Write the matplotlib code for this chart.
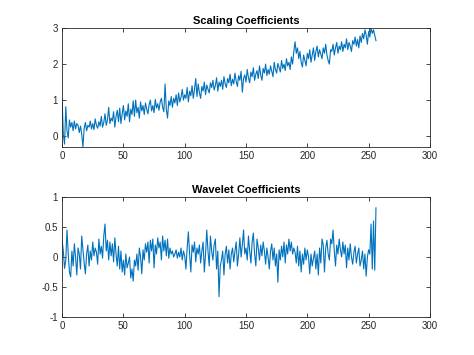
import numpy as np
import matplotlib
matplotlib.use("Agg")
from matplotlib import pyplot as plt

plt.rcParams['font.family'] = ['Liberation Sans', 'DejaVu Sans']

#############################################################
# Data
#############################################################
scaling = [
    1.05, 0.05, -0.22, 0.82, 0.15, -0.05, 0.45, 0.25, 0.38, 0.15,
    0.42, 0.20, 0.35, 0.30, 0.10, 0.28, 0.05, -0.30, 0.22, 0.38,
    0.15, 0.30, 0.25, 0.42, 0.20, 0.35, 0.18, 0.48, 0.30, 0.22,
    0.40, 0.28, 0.55, 0.25, 0.38, 0.62, 0.30, 0.45, 0.80, 0.35,
    0.50, 0.42, 0.68, 0.25, 0.55, 0.72, 0.40, 0.78, 0.35, 0.62,
    0.85, 0.45, 0.70, 0.55, 0.90, 0.40, 0.75, 0.60, 0.98, 0.55,
    1.00, 0.65, 0.80, 0.50, 0.95, 0.70, 0.85, 0.60, 0.92, 0.75,
    0.62, 0.88, 1.00, 0.70, 0.85, 0.65, 1.02, 0.78, 0.90, 0.72,
    0.95, 1.05, 0.80, 0.68, 1.45, 0.75, 0.50, 0.98, 0.85, 1.10,
    0.80, 1.05, 0.92, 1.15, 0.85, 1.20, 0.95, 1.08, 1.30, 1.00,
    1.15, 1.05, 1.35, 0.95, 1.25, 1.12, 1.40, 1.05, 1.30, 1.60,
    1.10, 1.45, 1.20, 1.05, 1.38, 1.25, 1.50, 1.15, 1.42, 1.30,
    1.20, 1.48, 1.35, 1.55, 1.28, 1.40, 1.62, 1.25, 1.50, 1.38,
    1.55, 1.30, 1.65, 1.45, 1.35, 1.60, 1.48, 1.72, 1.40, 1.58,
    1.45, 1.75, 1.52, 1.38, 1.68, 1.55, 1.80, 1.22, 1.60, 1.70,
    1.50, 1.85, 1.62, 1.48, 1.78, 1.65, 1.90, 1.55, 1.72, 1.82,
    1.60, 1.95, 1.70, 1.55, 1.88, 1.75, 2.00, 1.68, 1.85, 1.72,
    1.95, 1.80, 1.65, 2.05, 1.85, 1.75, 2.02, 1.90, 1.78, 2.10,
    1.88, 2.00, 1.82, 2.15, 1.95, 2.05, 1.85, 2.20, 2.00, 2.35,
    2.62, 2.30, 2.45, 2.15, 2.35, 2.05, 1.92, 2.25, 2.10, 1.95,
    2.30, 2.15, 2.40, 2.05, 2.25, 2.45, 2.10, 2.35, 2.50, 2.20,
    2.40, 2.28, 2.15, 2.45, 2.30, 2.55, 2.25, 2.10, 2.00, 2.40,
    2.35, 2.55, 2.25, 2.45, 2.60, 2.30, 2.50, 2.40, 2.62, 2.35,
    2.55, 2.45, 2.70, 2.40, 2.60, 2.50, 2.35, 2.65, 2.55, 2.75,
    2.50, 2.68, 2.45, 2.78, 2.60, 2.85, 2.70, 2.95, 2.80, 2.55,
    2.90, 2.75, 3.00, 2.85, 2.95, 2.80, 2.65,
]

wavelet = [
    0.28, 0.10, -0.19, -0.05, 0.45, 0.05, -0.25, -0.33, 0.10, -0.15,
    0.22, 0.00, -0.30, 0.15, 0.05, -0.20, 0.35, 0.12, -0.10, -0.28,
    0.05, 0.20, -0.15, 0.10, -0.05, 0.25, 0.02, 0.15, 0.08, -0.12,
    0.30, 0.05, 0.18, -0.02, 0.35, 0.55, 0.10, 0.28, -0.05, 0.25,
    0.02, 0.22, -0.08, 0.32, 0.05, -0.15, 0.18, -0.20, 0.10, -0.25,
    -0.05, -0.30, 0.05, -0.18, -0.10, 0.00, -0.35, -0.20, -0.40, -0.05,
    -0.15, 0.05, -0.22, 0.15, 0.00, -0.28, 0.12, -0.05, 0.22, 0.08,
    0.25, -0.10, 0.28, 0.10, 0.30, -0.18, 0.20, 0.05, 0.32, 0.15,
    0.25, -0.05, 0.35, 0.10, 0.28, 0.02, 0.30, -0.02, 0.15, 0.05,
    0.10, 0.00, 0.05, 0.12, -0.02, 0.08, 0.00, 0.15, -0.05, 0.10,
    0.02, -0.20, 0.15, 0.42, 0.05, -0.25, 0.20, 0.08, 0.25, -0.08,
    0.15, 0.05, 0.20, -0.10, 0.10, 0.25, -0.25, 0.05, 0.45, 0.10,
    -0.15, 0.35, 0.10, -0.05, 0.20, 0.30, -0.20, 0.10, -0.66, -0.15,
    -0.05, 0.10, -0.30, 0.05, 0.18, -0.10, 0.12, -0.20, 0.05, 0.15,
    -0.08, 0.10, 0.25, -0.15, 0.05, 0.32, 0.00, 0.20, 0.45, 0.05,
    0.15, -0.05, 0.35, 0.10, -0.10, 0.25, 0.40, 0.05, -0.15, 0.30,
    0.15, -0.05, 0.20, 0.02, 0.25, 0.10, -0.12, 0.15, 0.00, -0.20,
    0.10, 0.22, -0.05, 0.15, -0.15, 0.05, -0.42, 0.12, -0.05, 0.18,
    0.00, 0.25, -0.10, 0.20, 0.05, 0.30, 0.10, 0.25, 0.05, 0.15,
    0.08, -0.10, 0.18, -0.15, 0.10, -0.25, 0.05, -0.12, 0.15, -0.05,
    0.12, 0.00, -0.28, 0.05, -0.15, -0.02, 0.10, -0.20, 0.05, -0.30,
    0.15, -0.10, 0.30, 0.20, -0.25, 0.15, 0.28, 0.05, -0.05, 0.30,
    0.22, 0.45, 0.10, -0.15, 0.20, 0.05, 0.30, 0.12, 0.00, 0.25,
    0.05, 0.20, -0.18, 0.15, -0.05, 0.22, 0.00, -0.12, 0.08, 0.18,
    -0.10, 0.05, 0.15, -0.15, -0.05, 0.10, -0.20, 0.05, -0.32, 0.00,
    0.12, 0.05, 0.55, -0.20, 0.60, -0.22, 0.82,
]

titles = ["Scaling Coefficients", "Wavelet Coefficients"]
xticks = [0, 50, 100, 150, 200, 250, 300]
yticks_top = [0, 1, 2, 3]
yticks_bot = [-1, -0.5, 0, 0.5, 1]

#############################################################
# Plot
#############################################################
LINE_COLOR = "#0072BD"
AX_COLOR = "#262626"

fig = plt.figure(figsize=(4.74, 3.55), dpi=100)
axTop = fig.add_axes([0.131, 0.586, 0.776, 0.335])
axBot = fig.add_axes([0.131, 0.107, 0.776, 0.338])

for ax, y, title, yt, ylim in [
        (axTop, scaling, titles[0], yticks_top, (-0.3, 3)),
        (axBot, wavelet, titles[1], yticks_bot, (-1, 1))]:
    ax.plot(np.arange(len(y)), y, color=LINE_COLOR, lw=0.8)
    ax.set_xlim(0, 300)
    ax.set_ylim(*ylim)
    ax.set_xticks(xticks)
    ax.set_yticks(yt)
    ax.set_yticklabels([f"{v:g}" for v in yt])
    ax.set_title(title, fontsize=8, fontweight="bold", pad=3)
    ax.tick_params(direction="in", top=True, right=True, labelsize=7,
                   length=3, width=0.6, colors=AX_COLOR, pad=3)
    for s in ax.spines.values():
        s.set_linewidth(0.6)
        s.set_color(AX_COLOR)

fig.savefig("out.png", dpi=100)
